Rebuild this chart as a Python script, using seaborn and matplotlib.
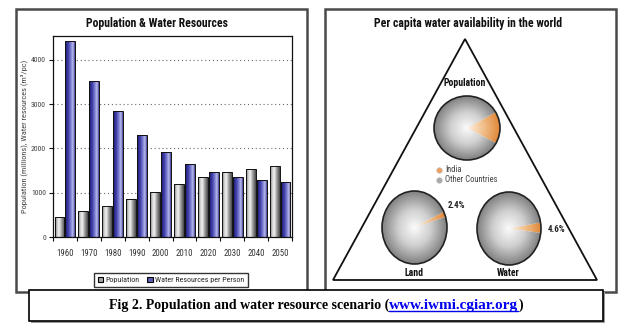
import numpy as np
import pandas as pd
import matplotlib
matplotlib.use("Agg")
import matplotlib.pyplot as plt
import seaborn as sns
from matplotlib import font_manager
from matplotlib.colors import LinearSegmentedColormap
from matplotlib.patches import Rectangle, Polygon, Circle

# ---- data -------------------------------------------------------------
years = ["1960", "1970", "1980", "1990", "2000", "2010", "2020", "2030", "2040", "2050"]
population = [450, 580, 690, 850, 1020, 1200, 1350, 1460, 1540, 1600]
water_per_person = [4420, 3530, 2850, 2300, 1910, 1650, 1460, 1360, 1280, 1240]
series_names = ["Population", "Water Resources per Person"]

share_labels = ["India", "Other Countries"]
population_share = [16.0, 84.0]
land_share = [2.4, 97.6]
water_share = [4.6, 95.4]

# ---- fonts --------------------------------------------------------------
sns.set_theme(style="white")
installed = {f.name for f in font_manager.fontManager.ttflist}
SANS = [n for n in ["Liberation Sans Narrow", "Roboto Condensed", "Open Sans", "DejaVu Sans"] if n in installed]
SERIF = [n for n in ["Liberation Serif", "DejaVu Serif"] if n in installed]
plt.rcParams["font.family"] = SANS

W, H = 643, 333
fig = plt.figure(figsize=(W / 100, H / 100), dpi=100)
fig.patch.set_facecolor("white")


def frac(x0, y0, x1, y1):
    """pixel box (top-left origin) -> figure fraction rect"""
    return [x0 / W, 1 - y1 / H, (x1 - x0) / W, (y1 - y0) / H]


# background layer in pixel units for frames, triangle and caption
bg = fig.add_axes([0, 0, 1, 1], zorder=0)
bg.set_xlim(0, W)
bg.set_ylim(H, 0)
bg.axis("off")

for x0, x1 in [(16, 307), (325, 616)]:
    bg.add_patch(Rectangle((x0, 9), x1 - x0, 283, fill=False, ec="#4a4a4a", lw=1.8, zorder=1))

# ---- left panel: grouped bars ------------------------------------------------
ax = fig.add_axes(frac(53, 36, 292, 237), zorder=2)
df = pd.DataFrame({
    "year": years * 2,
    "value": population + water_per_person,
    "series": [series_names[0]] * len(years) + [series_names[1]] * len(years),
})
sns.barplot(data=df, x="year", y="value", hue="series",
            palette=["#a6a6a6", "#4f4fc0"], width=0.92, gap=0.1,
            edgecolor="#111111", linewidth=0.7, ax=ax, zorder=3)

grey_cmap = LinearSegmentedColormap.from_list(
    "steel", [(0, "#7a7a7a"), (0.3, "#e4e4e4"), (0.42, "#f2f2f2"), (0.75, "#8c8c8c"), (1, "#444444")])
blue_cmap = LinearSegmentedColormap.from_list(
    "cobalt", [(0, "#1e1e6a"), (0.3, "#3838a4"), (0.62, "#8484d6"), (0.8, "#c6c6f2"), (1, "#34348e")])
grad = np.linspace(0, 1, 64).reshape(1, -1)
for container, cmap in zip(ax.containers, [grey_cmap, blue_cmap]):
    for bar in container:
        x0, y0 = bar.get_x(), bar.get_y()
        im = ax.imshow(grad, extent=(x0, x0 + bar.get_width(), y0, y0 + bar.get_height()),
                       cmap=cmap, aspect="auto", interpolation="bicubic", zorder=2.5)
        im.set_clip_path(bar)
        bar.set_facecolor("none")

ax.set_xlim(-0.5, len(years) - 0.5)
ax.set_ylim(0, 4540)
ax.set_yticks([0, 1000, 2000, 3000, 4000])
ax.yaxis.grid(True, linestyle=(0, (1, 2.5)), color="#666666", lw=0.8)
ax.set_axisbelow(True)
for s in ax.spines.values():
    s.set_color("#111111")
    s.set_linewidth(0.9)
ax.set_xlabel("")
ax.set_ylabel("Population (millions), Water resources (m³/pc)", fontsize=6.0, color="#444444")
ax.yaxis.set_label_coords(-0.105, 0.5)
ax.tick_params(axis="y", length=3, width=0.8, pad=2, labelsize=5.6, labelcolor="#444444", left=True, color="#111111")
ax.tick_params(axis="x", which="major", length=0, pad=9, labelsize=6.3, labelcolor="#333333")
ax.set_xticks(np.arange(-0.5, len(years), 1), minor=True)
ax.tick_params(axis="x", which="minor", length=3, width=0.8, bottom=True, color="#111111")

sns.move_legend(ax, "center", bbox_to_anchor=(171 / W, 1 - 280 / H), bbox_transform=fig.transFigure,
                ncol=2, title=None, frameon=True, fontsize=5.8, handlelength=0.7, handleheight=0.7,
                columnspacing=0.9, handletextpad=0.3, borderpad=0.45, borderaxespad=0,
                fancybox=False, edgecolor="black")
leg = ax.get_legend()
leg.get_frame().set_linewidth(1.0)
for h in leg.legend_handles:
    h.set_edgecolor("black")
    h.set_linewidth(0.8)

bg.text(157, 24, "Population & Water Resources", ha="center", va="center",
        fontsize=8.5, fontweight="bold", color="#111111")

# ---- right panel: three pies in a triangle ---------------------------
bg.add_patch(Polygon([(465, 39), (333, 280), (597, 280)], closed=True, fill=False,
                     ec="#111111", lw=1.3, zorder=2))
bg.text(468, 24, "Per capita water availability in the world", ha="center", va="center",
        fontsize=8.5, fontweight="bold", color="#111111")

gy, gx = np.mgrid[-1:1:240j, -1:1:240j]
radial = np.clip(np.hypot(gx, gy), 0, 1)
grey_radial = LinearSegmentedColormap.from_list("ball", ["#fbfbfb", "#cfcfcf", "#808080"])
orange_radial = LinearSegmentedColormap.from_list("slice", ["#fdf2e6", "#f2c08e", "#e08838"])


def gradient_pie(rect, shares, start):
    pax = fig.add_axes(rect, zorder=3)
    wedges, _ = pax.pie(shares, colors=["#e8964a", "#a8a8a8"], startangle=start,
                        counterclock=True, wedgeprops=dict(linewidth=0))
    for wedge, cmap in zip(wedges, [orange_radial, grey_radial]):
        im = pax.imshow(radial, extent=(-1, 1, -1, 1), cmap=cmap, vmin=0, vmax=1,
                        interpolation="bilinear", aspect="auto", zorder=1)
        im.set_clip_path(wedge)
        wedge.set_facecolor("none")
    pax.add_patch(Circle((0, 0), 1, fill=False, ec="#222222", lw=1.2, zorder=4, clip_on=False))
    pax.set_aspect("auto")
    pax.set_xlim(-1, 1)
    pax.set_ylim(-1, 1)
    pax.axis("off")
    return pax


gradient_pie(frac(434, 96, 500, 160), population_share, -28)
gradient_pie(frac(382, 191, 447, 264), land_share, 17)
gradient_pie(frac(477, 192, 541, 265), water_share, -7)

bg.text(465, 83, "Population", ha="center", va="center", fontsize=7, fontweight="bold", color="#111111")
bg.text(414, 273, "Land", ha="center", va="center", fontsize=7, fontweight="bold", color="#111111")
bg.text(508, 273, "Water", ha="center", va="center", fontsize=7, fontweight="bold", color="#111111")
bg.text(457, 206, "2.4%", ha="center", va="center", fontsize=6.5, fontweight="bold", color="#222222")
bg.text(557, 230, "4.6%", ha="center", va="center", fontsize=6.5, fontweight="bold", color="#222222")

for yy, label, col in [(170, share_labels[0], "#eea060"), (180, share_labels[1], "#a8a8a8")]:
    bg.plot([439], [yy], marker="o", ms=4, mfc=col, mec="#bbbbbb", mew=0.4, zorder=3)
    bg.text(445, yy, label, ha="left", va="center", fontsize=6.2, color="#444444")

# ---- caption box -----------------------------------------------------------
bg.add_patch(Rectangle((31, 292), 574, 31, fc="#9a9a9a", ec="none", zorder=5))
bg.add_patch(Rectangle((29, 290), 574, 31, fc="white", ec="black", lw=1.2, zorder=6))

parts = [("Fig 2. Population and water resource scenario (", "black", 10),
         ("www.iwmi.cgiar.org", "#0000ee", 11),
         (")", "black", 10)]
renderer = fig.canvas.get_renderer()
base_y = 309
texts = [bg.text(0, base_y, s, ha="left", va="baseline", fontsize=fs, color=c,
                 fontweight="bold", family=SERIF, zorder=7) for s, c, fs in parts]
widths = [t.get_window_extent(renderer).width for t in texts]
x = 316 - sum(widths) / 2
for t, w, (s, c, fs) in zip(texts, widths, parts):
    t.set_x(x)
    if c != "black":
        bg.plot([x, x + w], [base_y + 2, base_y + 2], color=c, lw=1.0, zorder=7)
    x += w

fig.savefig("out.png", dpi=100, facecolor="white")
